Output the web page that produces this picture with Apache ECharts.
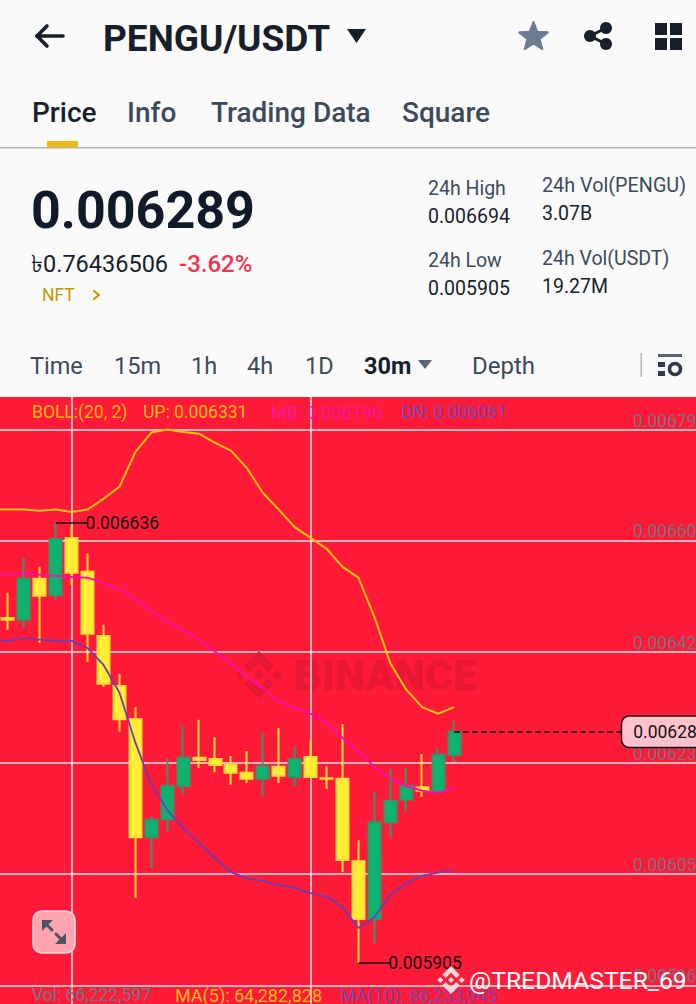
<!DOCTYPE html>
<html>
<head>
<meta charset="utf-8">
<title>PENGU/USDT</title>
<script src="https://cdn.jsdelivr.net/npm/echarts@6/dist/echarts.min.js"></script>
<style>
html, body { margin: 0; padding: 0; background: #fafafa; }
#chart { width: 696px; height: 1004px; }
</style>
</head>
<body>
<div id="chart"></div>
<script>
// 30m candles (the first slot sits just off the left edge)
const opens = ['-', 0.006478, 0.006475, 0.006543, 0.006516, 0.006611, 0.006555, 0.006448, 0.006365, 0.006310, 0.006114, 0.006144, 0.006199, 0.006246, 0.006244, 0.006234, 0.006221, 0.006211, 0.006231, 0.006214, 0.006247, 0.006212, 0.006211, 0.006074, 0.005978, 0.006139, 0.006176, 0.006197, 0.006191, 0.006251];
const closes = ['-', 0.006475, 0.006543, 0.006515, 0.006609, 0.006553, 0.006452, 0.006369, 0.006310, 0.006114, 0.006143, 0.006199, 0.006246, 0.006242, 0.006234, 0.006221, 0.006211, 0.006232, 0.006216, 0.006244, 0.006214, 0.006211, 0.006076, 0.005978, 0.006139, 0.006174, 0.006199, 0.006191, 0.006251, 0.006289];
const lows = ['-', 0.006458, 0.006462, 0.006437, 0.006508, 0.006533, 0.006405, 0.006364, 0.006289, 0.006013, 0.006063, 0.006123, 0.006184, 0.006229, 0.006222, 0.006201, 0.006204, 0.006181, 0.006204, 0.006199, 0.006214, 0.006194, 0.006056, 0.005905, 0.005938, 0.006114, 0.006156, 0.006181, 0.006187, 0.006239];
const highs = ['-', 0.006520, 0.006578, 0.006563, 0.006636, 0.006633, 0.006585, 0.006467, 0.006385, 0.006330, 0.006148, 0.006246, 0.006299, 0.006309, 0.006280, 0.006249, 0.006257, 0.006287, 0.006295, 0.006264, 0.006274, 0.006232, 0.006302, 0.006109, 0.006189, 0.006227, 0.006229, 0.006252, 0.006262, 0.006307];

// Bollinger bands
const bollUp = [0.006658, 0.006658, 0.006658, 0.006656, 0.006658, 0.006654, 0.006658, 0.006676, 0.006696, 0.006754, 0.006786, 0.006791, 0.006787, 0.006784, 0.006769, 0.006756, 0.006727, 0.006686, 0.006658, 0.006629, 0.006611, 0.006593, 0.006563, 0.006545, 0.006480, 0.006403, 0.006359, 0.006330, 0.006319, 0.006330];
const bollMid = [0.006550, 0.006550, 0.006553, 0.006550, 0.006548, 0.006546, 0.006545, 0.006536, 0.006526, 0.006510, 0.006490, 0.006472, 0.006457, 0.006442, 0.006422, 0.006403, 0.006380, 0.006362, 0.006339, 0.006329, 0.006319, 0.006304, 0.006279, 0.006256, 0.006231, 0.006211, 0.006199, 0.006191, 0.006187, 0.006196];
const bollDn = [0.006442, 0.006440, 0.006445, 0.006442, 0.006440, 0.006440, 0.006428, 0.006400, 0.006354, 0.006271, 0.006201, 0.006159, 0.006129, 0.006104, 0.006079, 0.006056, 0.006046, 0.006041, 0.006035, 0.006030, 0.006021, 0.006015, 0.005998, 0.005963, 0.005981, 0.006018, 0.006038, 0.006050, 0.006055, 0.006060];

const tickValues = [0.005868, 0.006053, 0.006237, 0.006422, 0.006607, 0.006791];
const tickLabels = ['0.00586', '0.00605', '0.00623', '0.00642', '0.00660', '0.00679'];
const verticalSlots = [5, 20];
const lastPrice = 0.006289;
const lastPriceLabel = '0.00628';
const highPrice = 0.006636;
const highLabel = '0.006636';
const lowPrice = 0.005905;
const lowLabel = '0.005905';

const slotCount = 46;
const slotWidth = 15.93;
const categories = Array.from({length: slotCount}, (_, i) => i);

const FONT = 'Roboto, "Noto Sans", sans-serif';
const INK = '#181e2a';
const SLATE = '#3d4a5c';

const text = (s, x, y, size, fill, weight, extra) => ({
    type: 'text', x, y, z: 50, silent: true,
    style: Object.assign({text: s, fontSize: size, fontFamily: FONT, fontWeight: weight || 400, fill, verticalAlign: 'middle'}, extra || {})
});
const rect = (x, y, width, height, fill, r) => ({
    type: 'rect', z: 50, silent: true, shape: {x, y, width, height, r: r || 0}, style: {fill}
});
const poly = (points, fill, z) => ({
    type: 'polygon', z: z || 50, silent: true, shape: {points}, style: {fill}
});
const strokeLine = (points, stroke, lineWidth) => ({
    type: 'polyline', z: 50, silent: true, shape: {points}, style: {stroke, lineWidth, fill: null, lineCap: 'round', lineJoin: 'round'}
});
const dot = (cx, cy, r, fill) => ({
    type: 'circle', z: 50, silent: true, shape: {cx, cy, r}, style: {fill}
});

const binanceLogo = (cx, cy, s, fill, z) => {
    const shape = pts => poly(pts.map(p => [cx + p[0] * s, cy + p[1] * s]), fill, z);
    const diamond = (dx, r) => [[dx, -r], [dx + r, 0], [dx, r], [dx - r, 0]];
    return [
        shape([[0, -1], [0.62, -0.38], [0.38, -0.14], [0, -0.52], [-0.38, -0.14], [-0.62, -0.38]]),
        shape([[0, 1], [0.62, 0.38], [0.38, 0.14], [0, 0.52], [-0.38, 0.14], [-0.62, 0.38]]),
        shape(diamond(0, 0.22)), shape(diamond(-0.76, 0.22)), shape(diamond(0.76, 0.22))
    ];
};

const starPoints = [];
for (let i = 0; i < 10; i++) {
    const r = i % 2 ? 6.5 : 15;
    const a = -Math.PI / 2 + i * Math.PI / 5;
    starPoints.push([533.5 + r * Math.cos(a), 37 + r * Math.sin(a)]);
}

const header = [
    strokeLine([[63, 36], [37, 36]], INK, 3.6),
    strokeLine([[47, 26], [37, 36], [47, 46]], INK, 3.6),
    text('PENGU/USDT', 103, 38, 37, INK, 700),
    poly([[347, 29], [366, 29], [356.5, 43]], INK),
    Object.assign(poly(starPoints, '#6c7c92'), {style: {fill: '#6c7c92', stroke: '#6c7c92', lineWidth: 2, lineJoin: 'round'}}),
    strokeLine([[606, 28], [590, 36], [606, 44]], INK, 3),
    dot(606, 28, 6, INK), dot(590, 36, 6, INK), dot(606, 44, 6, INK),
    rect(655, 23, 12, 12, INK), rect(670, 23, 12, 12, INK), rect(655, 38, 12, 12, INK), rect(670, 38, 12, 12, INK),

    text('Price', 32, 112, 28, INK, 500),
    text('Info', 127, 112, 28, SLATE, 500),
    text('Trading Data', 211, 112, 28, SLATE, 500),
    text('Square', 402, 112, 28, SLATE, 500),
    rect(47, 141, 31, 6, '#f0b90b'),
    rect(0, 147, 696, 1.6, '#aeb4bd'),

    text('0.006289', 31, 210, 52, '#111a28', 700),
    text('\u09F30.76436506', 31, 264, 23.5, INK, 400),
    text('-3.62%', 179, 264, 24, '#f6304f', 500),
    text('NFT', 42, 295, 17.5, '#c99400', 400),
    strokeLine([[94, 291], [99, 295], [94, 299]], '#c99400', 2.2),

    text('24h High', 428, 188, 19.5, SLATE),
    text('0.006694', 428, 216, 19.5, INK),
    text('24h Low', 428, 260, 19.5, SLATE),
    text('0.005905', 428, 288, 19.5, INK),
    text('24h Vol(PENGU)', 542, 185, 19.8, SLATE),
    text('3.07B', 542, 213, 19.5, INK),
    text('24h Vol(USDT)', 542, 258, 19.5, SLATE),
    text('19.27M', 542, 286, 19.5, INK),

    text('Time', 30, 366, 23.5, SLATE),
    text('15m', 114, 366, 23.5, SLATE),
    text('1h', 191, 366, 23.5, SLATE),
    text('4h', 247, 366, 23.5, SLATE),
    text('1D', 305, 366, 23.5, SLATE),
    text('30m', 364, 366, 23.5, INK, 700),
    poly([[418, 360], [432, 360], [425, 369]], '#5a6678'),
    text('Depth', 472, 366, 24, SLATE),
    rect(640.5, 353, 1.4, 24, '#aeb4bd'),
    rect(658, 354, 24, 3, '#5a6678'),
    rect(658, 362, 7, 5, '#2f3b4c'), rect(658, 371, 7, 5, '#2f3b4c'),
    {type: 'circle', z: 50, silent: true, shape: {cx: 675, cy: 369, r: 5.5}, style: {fill: 'none', stroke: '#2f3b4c', lineWidth: 3.5}}
];

const overlay = [
    text('BOLL:(20, 2)', 32, 412, 17.5, '#ffb81c'),
    text('UP: 0.006331', 143, 412, 17.5, '#ffb81c'),
    text('MB: 0.006196', 271, 412, 18, '#f5189a'),
    text('DN: 0.006061', 401, 412, 17.5, '#7a45b0'),

    text('Vol: 66,222,597', 32, 995, 17.5, '#6f7786'),
    text('MA(5): 64,282,828', 175, 995, 18, '#ffb81c'),
    text('MA(10): 86,233,945', 340, 995, 18, '#7a45b0'),

    // watermark sits under the candles
    ...binanceLogo(259, 675, 24, '#e81733', 1),
    Object.assign(text('BINANCE', 294, 675, 43, '#e81733', 900), {z: 1}),

    // expand button
    {type: 'rect', z: 50, silent: true, shape: {x: 33, y: 911, width: 42, height: 42, r: 9}, style: {fill: '#ffa5b0', stroke: '#ffd5db', lineWidth: 1.6}},
    strokeLine([[46, 924], [52, 930]], '#4a5568', 3),
    poly([[42, 920], [53, 920], [42, 931]], '#4a5568'),
    strokeLine([[56, 934], [62, 940]], '#4a5568', 3),
    poly([[66, 944], [55, 944], [66, 933]], '#4a5568'),

    ...binanceLogo(451, 980, 14, '#ffd8de', 60),
    Object.assign(text('@TREDMASTER_69', 469, 980, 24.7, '#ffffff', 400), {z: 60})
];

const myChart = echarts.init(document.querySelector('#chart'), null, {renderer: 'svg'});

const lineSeries = (name, data, color, width, extra) => Object.assign({
    name, type: 'line', data, symbol: 'none', smooth: false, z: 3,
    lineStyle: {color, width}, itemStyle: {color}, animation: false, silent: true
}, extra || {});

const candleData = opens.map((open, i) => open === '-' ? '-' : [open, closes[i], lows[i], highs[i]]);

const annotation = (fromSlot, toSlot, price, label, lineType, labelStyle) => [
    {
        coord: [fromSlot, price],
        lineStyle: {color: '#111', type: lineType, width: 1.5},
        label: Object.assign({show: true, position: 'end', distance: -2, padding: [4, 0, 0, 0], color: '#111', fontSize: 17.5, fontFamily: FONT, formatter: label}, labelStyle || {})
    },
    {coord: [toSlot, price]}
];

myChart.setOption({
    animation: false,
    backgroundColor: '#fafafa',
    grid: {
        show: true, backgroundColor: '#ff1a38', borderWidth: 0, outerBoundsMode: 'none',
        left: -slotWidth, top: 397, width: slotWidth * slotCount, height: 607
    },
    xAxis: {
        type: 'category', data: categories, boundaryGap: true,
        axisLine: {show: false}, axisTick: {show: false}, axisLabel: {show: false}, splitLine: {show: false}
    },
    yAxis: {
        type: 'value', position: 'left', scale: true, min: 0.005837, max: 0.006845,
        axisLine: {show: false},
        axisTick: {show: false, customValues: tickValues},
        splitLine: {show: true, lineStyle: {color: '#ffe4e8', width: 1.5}},
        axisLabel: {
            inside: true, margin: 649, align: 'left', verticalAlign: 'bottom', customValues: tickValues,
            color: '#7b6f80', fontSize: 17.5, fontFamily: FONT,
            formatter: v => tickLabels[tickValues.indexOf(v)]
        }
    },
    graphic: {elements: [...header, ...overlay]},
    series: [
        {
            name: 'PENGU/USDT', type: 'candlestick', data: candleData, barWidth: 12.5, z: 2, silent: true,
            itemStyle: {color: '#0db36f', color0: '#ffee33', borderColor: '#2f9a68', borderColor0: '#ffdb3a', borderWidth: 2},
            markLine: {
                silent: true, symbol: ['none', 'none'], animation: false, z: 6,
                data: [
                    annotation(4, 6, highPrice, highLabel, 'solid'),
                    annotation(23, 25, lowPrice, lowLabel, 'solid'),
                    annotation(29, 40, lastPrice, lastPriceLabel, 'dashed', {
                        distance: -7, backgroundColor: '#ffc2cc', borderColor: '#111', borderWidth: 1.5, borderRadius: 7,
                        padding: [7, 30, 5, 11]
                    })
                ]
            }
        },
        lineSeries('UP', bollUp, '#ffc20e', 2, {
            markLine: {
                silent: true, symbol: ['none', 'none'], animation: false, z: 1, label: {show: false},
                lineStyle: {color: '#ffe4e8', type: 'solid', width: 1.5},
                data: verticalSlots.map(xAxis => ({xAxis}))
            }
        }),
        lineSeries('MB', bollMid, '#fb0fa8', 2),
        lineSeries('DN', bollDn, '#6a3fb5', 1.8)
    ]
});
</script>
</body>
</html>
